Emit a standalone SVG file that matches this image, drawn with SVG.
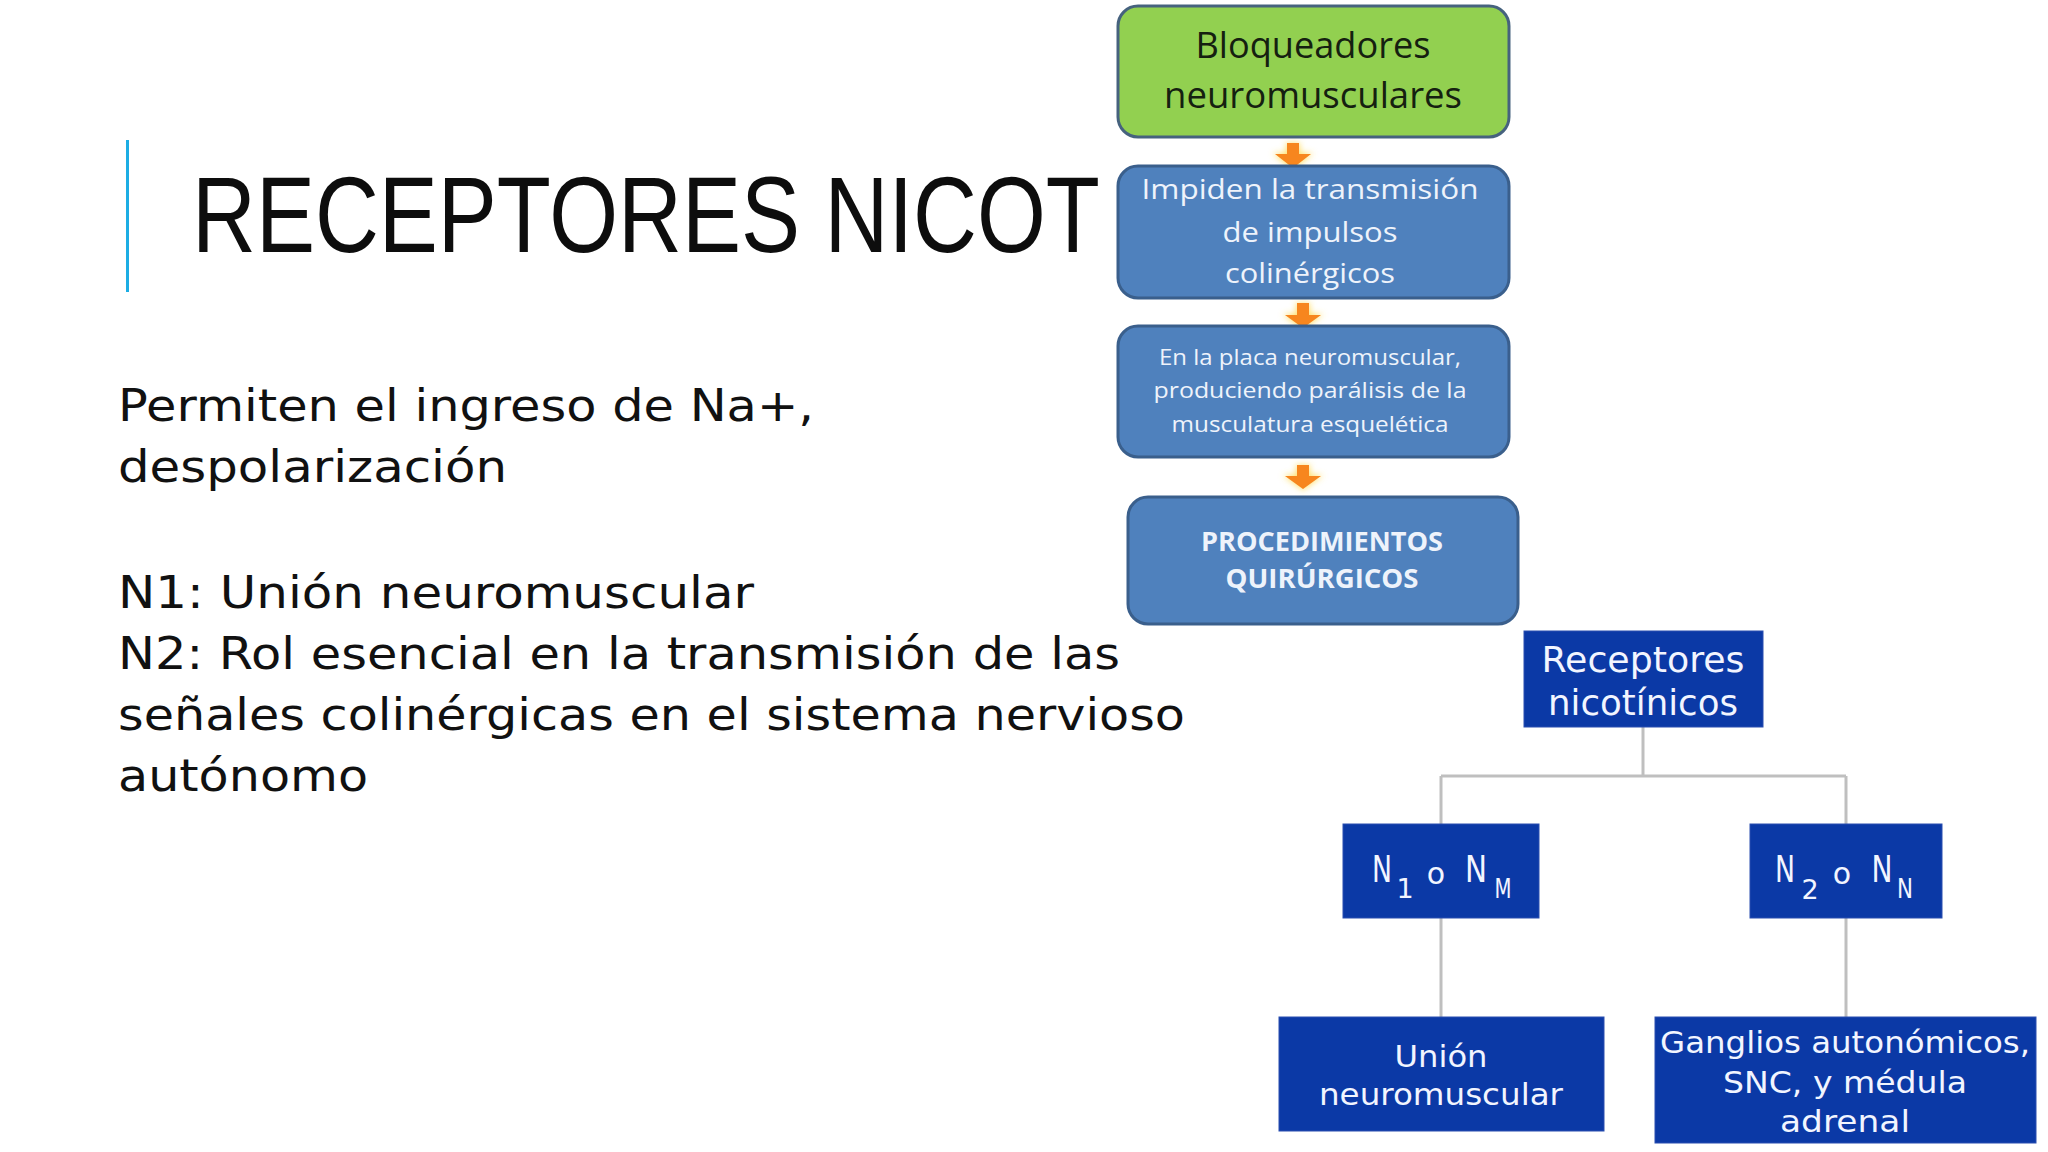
<svg xmlns="http://www.w3.org/2000/svg" width="2048" height="1152" viewBox="0 0 2048 1152">
<defs>
<style>
.body{font-family:"DejaVu Sans","Liberation Sans",sans-serif;font-size:44px;fill:#111111}
.title{font-family:"Liberation Sans",Arial,sans-serif;font-size:107px;fill:#0d0d0d}
.up{font-family:"Open Sans","Noto Sans",sans-serif;text-anchor:middle}
.lo{font-family:"DejaVu Sans","Liberation Sans",sans-serif;fill:#f2f5ff;text-anchor:middle}
.bluebox{fill:#4F81BD;stroke:#3A5F8C;stroke-width:3}
.greenbox{fill:#92D050;stroke:#46627E;stroke-width:3}
.navy{fill:#0B39A6;stroke:#2a4fb0;stroke-width:1}
.conn{stroke:#BFBFBF;stroke-width:3;fill:none}
.arrow{fill:#F7861E}
.glow{fill:#FFD84A;opacity:0.8}
</style>
<filter id="blur" x="-50%" y="-50%" width="200%" height="200%"><feGaussianBlur stdDeviation="3"/></filter>
</defs>
<rect width="2048" height="1152" fill="#ffffff"/>

<g id="title">
<rect x="126" y="140" width="3" height="152" fill="#1CADE4"/>
<text class="title" transform="translate(192 252) scale(0.827 1)" x="0" y="0">RECEPTORES NICOT</text>
</g>

<g id="body-text">
<text class="body" x="118" y="421" textLength="696" lengthAdjust="spacingAndGlyphs">Permiten el ingreso de Na+,</text>
<text class="body" x="118" y="482" textLength="389" lengthAdjust="spacingAndGlyphs">despolarización</text>
<text class="body" x="118" y="608" textLength="636" lengthAdjust="spacingAndGlyphs">N1: Unión neuromuscular</text>
<text class="body" x="118" y="669" textLength="1002" lengthAdjust="spacingAndGlyphs">N2: Rol esencial en la transmisión de las</text>
<text class="body" x="118" y="730" textLength="1067" lengthAdjust="spacingAndGlyphs">señales colinérgicas en el sistema nervioso</text>
<text class="body" x="118" y="791" textLength="250" lengthAdjust="spacingAndGlyphs">autónomo</text>
</g>

<g id="connectors">
<g filter="url(#blur)">
<path class="glow" d="M1286,143 H1300 V153 H1313 L1293,170 L1273,153 H1286 Z"/>
<path class="glow" d="M1296,303 H1310 V314 H1323 L1303,330 L1283,314 H1296 Z"/>
<path class="glow" d="M1296,465 H1310 V475 H1323 L1303,490 L1283,475 H1296 Z"/>
</g>
<path class="arrow" d="M1287,143 H1299 V154 H1311 L1293,168 L1275,154 H1287 Z"/>
<path class="arrow" d="M1297,303 H1309 V315 H1321 L1303,328 L1285,315 H1297 Z"/>
<path class="arrow" d="M1297,465 H1309 V476 H1321 L1303,489 L1285,476 H1297 Z"/>
<line class="conn" x1="1643" y1="727" x2="1643" y2="776"/>
<line class="conn" x1="1441" y1="776" x2="1846" y2="776"/>
<line class="conn" x1="1441" y1="776" x2="1441" y2="824"/>
<line class="conn" x1="1846" y1="776" x2="1846" y2="824"/>
<line class="conn" x1="1441" y1="918" x2="1441" y2="1017"/>
<line class="conn" x1="1846" y1="918" x2="1846" y2="1017"/>
</g>

<g id="node-bloqueadores">
<rect class="greenbox" x="1118" y="6" width="391" height="131" rx="20"/>
<text class="up" x="1313" y="58" font-size="36" fill="#152010" textLength="235" lengthAdjust="spacingAndGlyphs">Bloqueadores</text>
<text class="up" x="1313" y="108" font-size="36" fill="#152010" textLength="298" lengthAdjust="spacingAndGlyphs">neuromusculares</text>
</g>

<g id="node-impiden">
<rect class="bluebox" x="1118" y="166" width="391" height="132" rx="20"/>
<text class="up" x="1310" y="199" font-size="27" fill="#eef3fb" textLength="337" lengthAdjust="spacingAndGlyphs">Impiden  la transmisión</text>
<text class="up" x="1310" y="242" font-size="27" fill="#eef3fb" textLength="175" lengthAdjust="spacingAndGlyphs">de impulsos</text>
<text class="up" x="1310" y="283" font-size="27" fill="#eef3fb" textLength="170" lengthAdjust="spacingAndGlyphs">colinérgicos</text>
</g>

<g id="node-placa">
<rect class="bluebox" x="1118" y="326" width="391" height="131" rx="20"/>
<text class="up" x="1310" y="365" font-size="22" fill="#eef3fb" textLength="302" lengthAdjust="spacingAndGlyphs">En la placa neuromuscular,</text>
<text class="up" x="1310" y="398" font-size="22" fill="#eef3fb" textLength="313" lengthAdjust="spacingAndGlyphs">produciendo parálisis  de la</text>
<text class="up" x="1310" y="432" font-size="22" fill="#eef3fb" textLength="277" lengthAdjust="spacingAndGlyphs">musculatura esquelética</text>
</g>

<g id="node-procedimientos">
<rect class="bluebox" x="1128" y="497" width="390" height="127" rx="20"/>
<text class="up" x="1322" y="551" font-size="26" font-weight="bold" fill="#eef3fb" textLength="242" lengthAdjust="spacingAndGlyphs">PROCEDIMIENTOS</text>
<text class="up" x="1322" y="588" font-size="26" font-weight="bold" fill="#eef3fb" textLength="193" lengthAdjust="spacingAndGlyphs">QUIRÚRGICOS</text>
</g>

<g id="node-receptores">
<rect class="navy" x="1524" y="631" width="239" height="96"/>
<text class="lo" x="1643" y="672" font-size="35" textLength="203" lengthAdjust="spacingAndGlyphs">Receptores</text>
<text class="lo" x="1643" y="715" font-size="35" textLength="190" lengthAdjust="spacingAndGlyphs">nicotínicos</text>
</g>

<g id="node-n1">
<rect class="navy" x="1343" y="824" width="196" height="94"/>
<text class="lo" font-size="37"><tspan x="1382" y="882" textLength="20" lengthAdjust="spacingAndGlyphs">N</tspan><tspan x="1405" y="898" font-size="27">1</tspan><tspan x="1436" y="884" font-size="30">o</tspan><tspan x="1476" y="882" textLength="22" lengthAdjust="spacingAndGlyphs">N</tspan><tspan x="1503" y="898" font-size="26" textLength="17" lengthAdjust="spacingAndGlyphs">M</tspan></text>
</g>

<g id="node-n2">
<rect class="navy" x="1750" y="824" width="192" height="94"/>
<text class="lo" font-size="37"><tspan x="1785" y="882" textLength="20" lengthAdjust="spacingAndGlyphs">N</tspan><tspan x="1810" y="899" font-size="27">2</tspan><tspan x="1842" y="884" font-size="30">o</tspan><tspan x="1882" y="882" textLength="21" lengthAdjust="spacingAndGlyphs">N</tspan><tspan x="1905" y="898" font-size="26" textLength="16" lengthAdjust="spacingAndGlyphs">N</tspan></text>
</g>

<g id="node-union">
<rect class="navy" x="1279" y="1017" width="325" height="114"/>
<text class="lo" x="1441" y="1067" font-size="31" textLength="93" lengthAdjust="spacingAndGlyphs">Unión</text>
<text class="lo" x="1441" y="1105" font-size="31" textLength="244" lengthAdjust="spacingAndGlyphs">neuromuscular</text>
</g>

<g id="node-ganglios">
<rect class="navy" x="1655" y="1017" width="381" height="126"/>
<text class="lo" x="1845" y="1053" font-size="31" textLength="370" lengthAdjust="spacingAndGlyphs">Ganglios autonómicos,</text>
<text class="lo" x="1845" y="1093" font-size="31" textLength="244" lengthAdjust="spacingAndGlyphs">SNC, y médula</text>
<text class="lo" x="1845" y="1132" font-size="31" textLength="130" lengthAdjust="spacingAndGlyphs">adrenal</text>
</g>
</svg>
